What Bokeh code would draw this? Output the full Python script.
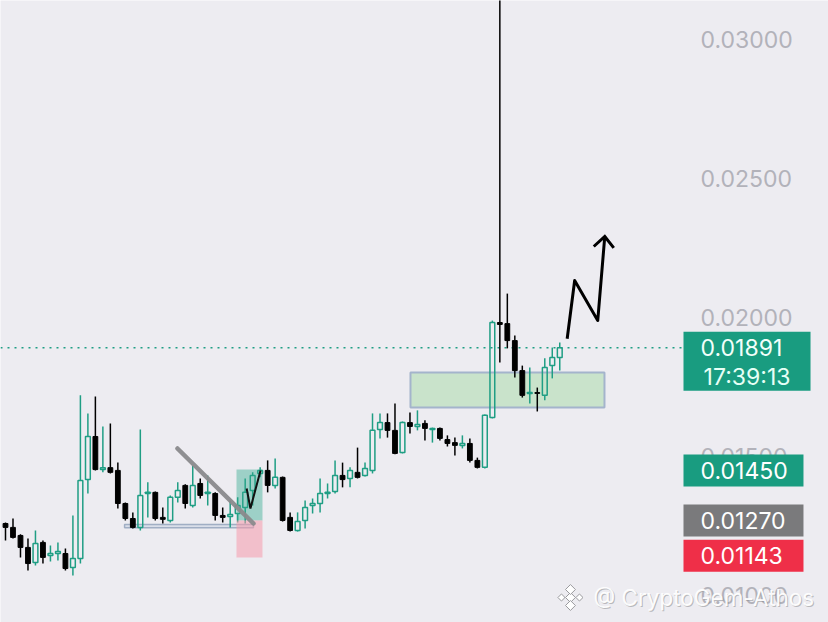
import numpy as np
import pandas as pd
from bokeh.plotting import figure
from bokeh.models import ColumnDataSource, Range1d
from bokeh.core.properties import value
from bokeh.embed import file_html
from bokeh.resources import INLINE

# ---------------- data ----------------
opens = [0.01259, 0.01245, 0.01216, 0.01173, 0.01119, 0.01191, 0.01144, 0.01151, 0.01151, 0.01101,
         0.01133, 0.01417, 0.01572, 0.01453, 0.01460, 0.01450, 0.01331, 0.01277, 0.01245, 0.01367,
         0.01371, 0.01281, 0.01270, 0.01353, 0.01396, 0.01324, 0.01403, 0.01367, 0.01367, 0.01288,
         0.01284, 0.01295, 0.01317, 0.01378, 0.01439, 0.01450, 0.01396, 0.01425, 0.01281, 0.01234,
         0.01270, 0.01324, 0.01331, 0.01367, 0.01374, 0.01432, 0.01421, 0.01443, 0.01432, 0.01450,
         0.01597, 0.01622, 0.01594, 0.01514, 0.01622, 0.01608, 0.01619, 0.01597, 0.01601, 0.01561,
         0.01550, 0.01540, 0.01547, 0.01486, 0.01461, 0.01640, 0.01982, 0.01978, 0.01917, 0.01809,
         0.01727, 0.01730, 0.01720, 0.01827, 0.01856]
highs = [0.01263, 0.01277, 0.01220, 0.01205, 0.01234, 0.01198, 0.01180, 0.01191, 0.01169, 0.01288,
         0.01720, 0.01655, 0.01716, 0.01608, 0.01619, 0.01478, 0.01335, 0.01299, 0.01597, 0.01407,
         0.01374, 0.01317, 0.01360, 0.01407, 0.01400, 0.01468, 0.01421, 0.01432, 0.01371, 0.01317,
         0.01342, 0.01353, 0.01421, 0.01443, 0.01461, 0.01486, 0.01493, 0.01428, 0.01299, 0.01299,
         0.01342, 0.01349, 0.01421, 0.01403, 0.01486, 0.01478, 0.01461, 0.01532, 0.01478, 0.01655,
         0.01655, 0.01655, 0.01691, 0.01626, 0.01658, 0.01666, 0.01630, 0.01604, 0.01604, 0.01576,
         0.01568, 0.01576, 0.01565, 0.01496, 0.01651, 0.01989, 0.03350, 0.02086, 0.01935, 0.01827,
         0.01820, 0.01748, 0.01853, 0.01892, 0.01910]
lows = [0.01198, 0.01205, 0.01137, 0.01090, 0.01108, 0.01115, 0.01122, 0.01126, 0.01090, 0.01072,
        0.01115, 0.01367, 0.01450, 0.01443, 0.01439, 0.01313, 0.01270, 0.01241, 0.01234, 0.01281,
        0.01270, 0.01259, 0.01263, 0.01335, 0.01313, 0.01317, 0.01349, 0.01324, 0.01270, 0.01263,
        0.01245, 0.01263, 0.01259, 0.01324, 0.01425, 0.01371, 0.01385, 0.01266, 0.01230, 0.01230,
        0.01241, 0.01295, 0.01299, 0.01349, 0.01367, 0.01389, 0.01389, 0.01421, 0.01428, 0.01439,
        0.01565, 0.01568, 0.01508, 0.01511, 0.01583, 0.01594, 0.01558, 0.01550, 0.01558, 0.01536,
        0.01504, 0.01529, 0.01478, 0.01457, 0.01457, 0.01637, 0.01838, 0.01889, 0.01784, 0.01712,
        0.01691, 0.01662, 0.01702, 0.01781, 0.01809]
closes = [0.01245, 0.01209, 0.01173, 0.01115, 0.01187, 0.01137, 0.01151, 0.01158, 0.01097, 0.01133,
          0.01414, 0.01572, 0.01453, 0.01460, 0.01443, 0.01331, 0.01277, 0.01245, 0.01360, 0.01371,
          0.01277, 0.01274, 0.01353, 0.01378, 0.01331, 0.01396, 0.01360, 0.01371, 0.01288, 0.01281,
          0.01291, 0.01324, 0.01371, 0.01432, 0.01450, 0.01396, 0.01425, 0.01270, 0.01234, 0.01266,
          0.01317, 0.01331, 0.01367, 0.01371, 0.01432, 0.01417, 0.01450, 0.01425, 0.01457, 0.01594,
          0.01622, 0.01594, 0.01511, 0.01622, 0.01608, 0.01615, 0.01601, 0.01601, 0.01565, 0.01547,
          0.01540, 0.01547, 0.01486, 0.01461, 0.01648, 0.01982, 0.01975, 0.01917, 0.01809, 0.01720,
          0.01730, 0.01727, 0.01820, 0.01856, 0.01891]

tick_values = [0.030, 0.025, 0.020, 0.015, 0.010]
tick_labels = ["0.03000", "0.02500", "0.02000", "0.01500", "0.01000"]

last_price = 0.01891
last_label = "0.01891"
countdown = "17:39:13"
level_values = [0.01450, 0.01270, 0.01143]
level_labels = ["0.01450", "0.01270", "0.01143"]

# drawings (bar index, price)
demand_zone = [54.07, 79.97, 0.01802, 0.01676]      # left, right, top, bottom
base_zone = [15.9, 33.1, 0.012556, 0.012437]
target_zone = [30.84, 34.31, 0.014533, 0.012698]
stop_zone = [30.84, 34.31, 0.012698, 0.011367]
trend_x = [22.96, 33.11]
trend_y = [0.015288, 0.012590]
check_x = [32.2, 32.7, 34.05]
check_y = [0.01385, 0.01313, 0.01450]
arrow_x = [74.99, 75.99, 79.07, 80.01]
arrow_y = [0.019234, 0.021331, 0.019892, 0.022914]
arrowhead_x = [78.54, 80.01, 81.21]
arrowhead_y = [0.022554, 0.022914, 0.022507]
watermark = "@ CryptoGem-Athos"

# ---------------- styles ----------------
BG = "#edecf1"
TEAL = "#1f9e84"
BOX_TEAL = "#199c80"
GRAY_BOX = "#7a7a7c"
RED_BOX = "#ef2f48"
FONT = value("Inter")

W, H = 828, 622
x0, x1 = -0.668, 109.88
y0, y1 = 0.009029, 0.031403
PXY = (y1 - y0) / H
PXX = (x1 - x0) / W

p = figure(width=W, height=H, output_backend="svg", toolbar_location=None,
           x_range=Range1d(x0, x1), y_range=Range1d(y0, y1), min_border=0)
p.xaxis.visible = False
p.yaxis.visible = False
p.xgrid.visible = False
p.ygrid.visible = False
p.outline_line_color = None
p.background_fill_color = BG
p.border_fill_color = BG

df = pd.DataFrame(dict(o=opens, h=highs, l=lows, c=closes))
df["i"] = np.arange(len(df))
df["top"] = df[["o", "c"]].max(axis=1)
df["bot"] = df[["o", "c"]].min(axis=1)
up = df[df.c >= df.o]
dn = df[df.c < df.o]

# demand zone (behind candles)
p.quad(left=[demand_zone[0]], right=[demand_zone[1]], top=[demand_zone[2]], bottom=[demand_zone[3]],
       fill_color="#c4e2c6", fill_alpha=0.9, line_color="#a4b4cc", line_width=2)
p.quad(left=[base_zone[0]], right=[base_zone[1]], top=[base_zone[2]], bottom=[base_zone[3]],
       fill_color="#d6dde8", fill_alpha=0.9, line_color="#a0aec4", line_width=1.5)

# price axis tick labels
p.text(x=[92.8] * len(tick_values), y=tick_values, text=tick_labels, text_font=FONT,
       text_font_size="23px", text_color="#b2b2ba", text_baseline="middle", text_align="left")

# last price dotted line
p.line(x=[x0, 90.52], y=[last_price, last_price], line_color=TEAL, line_width=1.5, line_dash="2 5")

# candles
for sub, col in ((up, TEAL), (dn, "black")):
    s = ColumnDataSource(sub)
    p.segment(x0="i", y0="h", x1="i", y1="top", source=s, line_color=col, line_width=1.5)
    p.segment(x0="i", y0="bot", x1="i", y1="l", source=s, line_color=col, line_width=1.5)
p.quad(left=up.i - 0.32, right=up.i + 0.32, top=up.top, bottom=up.bot,
       fill_alpha=0, line_color=TEAL, line_width=1.5)
p.quad(left=dn.i - 0.32, right=dn.i + 0.32, top=dn.top, bottom=dn.bot,
       fill_color="black", line_color="black", line_width=1)

# long position boxes
p.quad(left=[target_zone[0]], right=[target_zone[1]], top=[target_zone[2]], bottom=[target_zone[3]],
       fill_color="#2fa98c", fill_alpha=0.42, line_color=None)
p.quad(left=[stop_zone[0]], right=[stop_zone[1]], top=[stop_zone[2]], bottom=[stop_zone[3]],
       fill_color="#f59aab", fill_alpha=0.55, line_color=None)

# drawings
p.line(x=trend_x, y=trend_y, line_color="#8a8a8c", line_width=4.5, line_cap="round", line_alpha=0.95)
p.line(x=check_x, y=check_y, line_color="#111111", line_width=2)
p.line(x=arrow_x, y=arrow_y, line_color="black", line_width=3, line_join="round")
p.line(x=arrowhead_x, y=arrowhead_y, line_color="black", line_width=3, line_join="miter")

# right-side label boxes
BL = 90.52
p.quad(left=[BL], right=[107.48], top=[last_price + 16 * PXY], bottom=[last_price - 43 * PXY],
       fill_color=BOX_TEAL, line_color=None)
p.text(x=[92.8], y=[last_price], text=[last_label], text_font=FONT, text_font_size="23px",
       text_color="#f2fffa", text_baseline="middle", text_align="left")
p.text(x=[93.2], y=[last_price - 29 * PXY], text=[countdown], text_font=FONT, text_font_size="23px",
       text_color="#e6fff6", text_baseline="middle", text_align="left")

box_colors = [BOX_TEAL, GRAY_BOX, RED_BOX]
p.quad(left=[BL] * 3, right=[106.54] * 3,
       top=[v + 16 * PXY for v in level_values], bottom=[v - 16 * PXY for v in level_values],
       fill_color=box_colors, line_color=None)
p.text(x=[92.8] * 3, y=level_values, text=level_labels, text_font=FONT, text_font_size="23px",
       text_color="white", text_baseline="middle", text_align="left")

# watermark
wm_x, wm_y = 78.5, 0.009928
p.text(x=[wm_x], y=[wm_y], text=[watermark], text_font=FONT, text_font_size="22.5px",
       text_color="#8c8c90", text_alpha=0.55, text_baseline="middle", text_align="left",
       x_offset=1, y_offset=1)
p.text(x=[wm_x], y=[wm_y], text=[watermark], text_font=FONT, text_font_size="22.5px",
       text_color="white", text_alpha=0.95, text_baseline="middle", text_align="left")
lx = wm_x - 23 * PXX
p.scatter(x=[lx, lx - 9 * PXX, lx + 9 * PXX, lx, lx],
          y=[wm_y, wm_y, wm_y, wm_y + 8 * PXY, wm_y - 8 * PXY],
          marker="square", size=[7, 5, 5, 7, 7], angle=np.pi / 4,
          fill_color="white", line_color="#9a9a9e", line_width=1)

html = file_html(p, INLINE, title="chart")
html = html.replace("<body>", '<body style="background:%s;">' % BG, 1)
open("out.html", "w").write(html)
